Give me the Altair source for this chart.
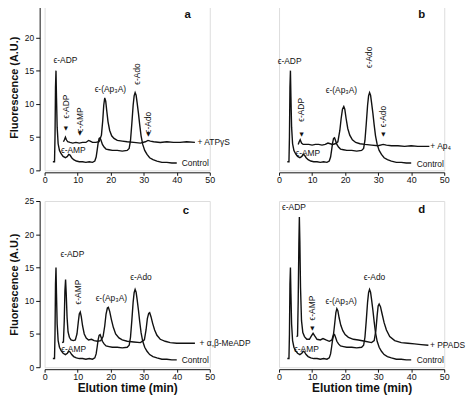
import altair as alt
import pandas as pd

# ---------------- data ----------------
# shared control chromatogram (min, A.U.)
ctl_t = [2.5, 3.0, 3.15, 3.3, 3.45, 3.6, 3.8, 4.1, 4.5, 5.0, 5.6, 6.3, 6.9, 7.3, 7.7, 8.2, 8.8, 9.6,
         10.5, 11.5, 12.5, 13.5, 14.5, 15.2, 15.6, 15.9, 16.2, 16.5, 16.8, 17.1, 17.5, 18.0, 18.6,
         19.5, 20.5, 22.0, 23.5, 25.0, 25.6, 26.0, 26.4, 26.8, 27.1, 27.4, 27.7, 28.0, 28.4, 28.8,
         29.2, 29.7, 30.3, 31.0, 31.8, 32.8, 34.0, 35.5, 37.0, 38.5, 40.0]
ctl_v = [1.3, 1.3, 5.0, 12.5, 15.0, 11.0, 6.5, 4.0, 3.0, 2.5, 2.1, 1.9, 2.1, 2.4, 2.3, 1.9, 1.6, 1.4,
         1.3, 1.3, 1.2, 1.3, 1.2, 1.4, 2.0, 3.0, 4.1, 4.8, 4.9, 4.5, 3.9, 3.5, 3.2,
         3.1, 3.0, 3.0, 2.9, 3.0, 3.3, 4.5, 7.0, 9.8, 11.2, 11.7, 11.3, 10.2, 8.6, 6.8,
         5.2, 3.9, 3.0, 2.4, 1.9, 1.6, 1.4, 1.2, 1.2, 1.1, 1.1]

# a: + ATPgammaS
a_t = [5.7, 6.0, 6.3, 6.6, 7.0, 7.7, 8.5, 9.5, 10.5, 11.5, 12.5, 13.3, 13.8, 14.5, 15.5, 16.5,
       17.2, 17.6, 17.9, 18.2, 18.5, 18.8, 19.2, 19.7, 20.3, 21.0, 22.0, 23.5, 25.0, 27.0, 29.0,
       30.5, 31.3, 32.0, 33.0, 35.0, 37.0, 39.0, 41.0, 43.0, 45.5]
a_v = [4.3, 4.6, 5.0, 4.6, 4.3, 4.2, 4.1, 4.2, 4.1, 4.2, 4.2, 4.5, 4.4, 4.2, 4.2, 4.3,
       5.3, 7.5, 9.8, 10.9, 10.4, 9.0, 7.3, 6.0, 5.2, 4.8, 4.5, 4.4, 4.3, 4.2, 4.1,
       4.3, 4.5, 4.4, 4.3, 4.2, 4.3, 4.2, 4.2, 4.3, 4.2]

# b: + Ap4
b_t = [5.8, 6.1, 6.4, 6.8, 7.3, 8.0, 9.0, 10.0, 11.0, 12.0, 13.0, 14.0, 14.8, 15.5, 16.2, 17.0,
       17.8, 18.4, 18.8, 19.2, 19.6, 19.9, 20.3, 20.8, 21.4, 22.2, 23.2, 24.5, 26.0, 28.0, 30.0,
       31.5, 32.5, 34.0, 36.0, 38.0, 40.0, 42.0, 44.0, 45.5]
b_v = [3.9, 4.3, 4.6, 4.1, 3.9, 3.9, 3.9, 3.8, 3.9, 3.9, 3.8, 3.9, 4.1, 4.0, 3.9, 4.0,
       4.3, 6.0, 7.8, 9.2, 9.6, 9.2, 7.8, 6.3, 5.3, 4.6, 4.2, 4.0, 3.9, 3.8, 3.7,
       3.9, 3.8, 3.7, 3.7, 3.6, 3.7, 3.6, 3.6, 3.6]

# c: + alpha,beta-MeADP
c_t = [5.3, 5.7, 5.95, 6.15, 6.35, 6.55, 6.8, 7.1, 7.5, 8.0, 8.7, 9.3, 9.8, 10.2, 10.5, 10.8, 11.1,
       11.5, 12.0, 12.6, 13.3, 14.2, 15.0, 16.0, 17.0, 17.7, 18.2, 18.6, 19.0, 19.3, 19.7, 20.2,
       20.8, 21.5, 22.5, 23.5, 25.0, 27.0, 29.0, 30.2, 30.7, 31.1, 31.5, 31.8, 32.2, 32.7, 33.3,
       34.0, 35.0, 36.5, 38.0, 40.0, 42.0, 44.0, 45.5]
c_v = [3.7, 3.8, 7.0, 11.5, 13.2, 11.0, 7.5, 5.3, 4.5, 4.1, 4.0, 4.1, 5.0, 6.8, 8.0, 8.3, 7.6,
       6.2, 5.0, 4.4, 4.1, 4.2, 4.0, 3.9, 4.0, 4.6, 6.2, 8.0, 8.9, 9.0, 8.4, 7.2,
       6.0, 5.0, 4.4, 4.1, 3.9, 3.8, 3.7, 4.1, 5.6, 7.3, 8.1, 8.2, 7.6, 6.6, 5.6,
       4.8, 4.2, 3.9, 3.7, 3.6, 3.6, 3.6, 3.6]

# d: + PPADS
d_t = [5.3, 5.6, 5.8, 6.0, 6.15, 6.3, 6.5, 6.8, 7.2, 7.7, 8.4, 9.2, 9.8, 10.3, 10.8, 11.5, 12.5,
       13.3, 14.2, 15.2, 16.0, 16.5, 16.9, 17.2, 17.5, 17.8, 18.2, 18.7, 19.3, 20.0, 21.0, 22.5,
       24.0, 26.0, 28.0, 28.8, 29.3, 29.7, 30.0, 30.3, 30.7, 31.2, 31.8, 32.5, 33.5, 35.0, 37.0,
       39.0, 41.0, 43.0, 45.2]
d_v = [4.6, 4.7, 10.0, 18.5, 22.6, 19.0, 12.0, 7.0, 5.2, 4.6, 4.2, 4.2, 4.7, 5.1, 4.7, 4.2, 4.1,
       4.3, 4.1, 3.9, 4.1, 5.0, 6.8, 8.2, 8.8, 8.5, 7.4, 6.3, 5.5, 4.9, 4.5, 4.2,
       4.1, 3.9, 3.7, 4.0, 5.5, 7.8, 9.2, 9.5, 9.1, 8.0, 6.7, 5.6, 4.6, 4.0, 3.7,
       3.6, 3.5, 3.4, 3.3]

panels = ["a", "b", "c", "d"]
trt_t = {"a": a_t, "b": b_t, "c": c_t, "d": d_t}
trt_v = {"a": a_v, "b": b_v, "c": c_v, "d": d_v}

E = "\u03f5"
# horizontal peak labels: panel, t, v, text
hl_panel = ["a", "a", "a", "b", "b", "b", "c", "c", "c", "c", "d", "d", "d", "d"]
hl_t = [6.3, 8.7, 19.9, 3.2, 8.7, 18.9, 8.4, 8.8, 20.2, 29.2, 4.5, 8.3, 18.8, 28.9]
hl_v = [16.6, 3.0, 12.2, 16.5, 2.6, 12.1, 17.0, 2.75, 10.4, 13.6, 24.1, 2.75, 10.0, 13.6]
hl_text = [E + "-ADP", E + "-AMP", E + "-(Ap\u2083A)",
           E + "-ADP", E + "-AMP", E + "-(Ap\u2083A)",
           E + "-ADP", E + "-AMP", E + "-(Ap\u2083A)", E + "-Ado",
           E + "-ADP", E + "-AMP", E + "-(Ap\u2083A)", E + "-Ado"]

# vertical (rotated) peak labels
vl_panel = ["a", "a", "a", "a", "b", "b", "b", "c", "d"]
vl_t = [6.4, 10.7, 27.9, 31.4, 6.8, 27.2, 31.6, 10.0, 10.1]
vl_v = [9.6, 7.6, 14.5, 7.2, 9.1, 17.0, 8.1, 11.3, 8.9]
vl_text = [E + "-ADP", E + "-AMP", E + "-Ado", E + "-Ado", E + "-ADP", E + "-Ado", E + "-Ado",
           E + "-AMP", E + "-AMP"]

# arrow heads under the rotated labels
ar_panel = ["a", "a", "a", "b", "b", "d"]
ar_t = [6.4, 10.7, 31.4, 6.8, 31.6, 10.1]
ar_v = [6.3, 5.6, 5.4, 5.5, 5.4, 5.9]

# trace end labels
tl_panel = ["a", "b", "c", "d", "a", "b", "c", "d"]
tl_t = [46.3, 45.8, 46.9, 45.7, 41.5, 41.7, 41.5, 41.7]
tl_v = [4.2, 3.6, 3.6, 3.3, 1.1, 1.0, 1.1, 1.1]
tl_text = ["+ ATP\u03b3S", "+ Ap\u2084", "+ \u03b1,\u03b2-MeADP", "+ PPADS",
           "Control", "Control", "Control", "Control"]

# panel letters
pl_t = [43.3, 43.2, 42.8, 43.2]
pl_v = [23.3, 23.3, 23.5, 23.7]

# ---------------- tables ----------------
rows = []
for p in panels:
    for t, v in zip(ctl_t, ctl_v):
        rows.append({"panel": p, "series": "Control", "t": t, "v": v})
    for t, v in zip(trt_t[p], trt_v[p]):
        rows.append({"panel": p, "series": "Treated", "t": t, "v": v})
traces = pd.DataFrame(rows)
hl = pd.DataFrame({"panel": hl_panel, "t": hl_t, "v": hl_v, "label": hl_text})
vl = pd.DataFrame({"panel": vl_panel, "t": vl_t, "v": vl_v, "label": vl_text})
ar = pd.DataFrame({"panel": ar_panel, "t": ar_t, "v": ar_v, "label": ["\u25bc"] * len(ar_panel)})
tl = pd.DataFrame({"panel": tl_panel, "t": tl_t, "v": tl_v, "label": tl_text})
pl = pd.DataFrame({"panel": panels, "t": pl_t, "v": pl_v, "label": panels})

FONT = "Liberation Sans"
INK = "#111111"


def make_panel(p, left, bottom):
    x_axis = alt.Axis(values=[0, 10, 20, 30, 40, 50], title="Elution time (min)" if bottom else None,
                      offset=2, tickSize=3, labelPadding=0, titlePadding=2,
                      titleFontSize=12, titleFontWeight="bold", titleFont=FONT,
                      labelFontSize=9, labelFont=FONT, labelColor=INK, titleColor=INK,
                      domainColor=INK, tickColor=INK, grid=False, labelFlush=False)
    x = alt.X("t:Q", scale=alt.Scale(domain=[0, 50]), axis=x_axis)
    if left:
        y_axis = alt.Axis(values=[0, 5, 10, 15, 20, 25], title="Fluorescence (A.U.)",
                          offset=5, tickSize=4, labelPadding=2, titlePadding=5,
                          titleFontSize=11, titleFontWeight="bold", titleFont=FONT,
                          labelFontSize=8.5, labelFont=FONT, labelColor=INK, titleColor=INK,
                          domainColor=INK, tickColor=INK, grid=False, labelFlush=False)
        y = alt.Y("v:Q", scale=alt.Scale(domain=[0, 25]), axis=y_axis)
    else:
        y = alt.Y("v:Q", scale=alt.Scale(domain=[0, 25]), axis=None)

    lines = alt.Chart(traces[traces.panel == p]).mark_line(
        color=INK, strokeWidth=1.4, interpolate="linear").encode(x=x, y=y, detail="series:N")
    htxt = alt.Chart(hl[hl.panel == p]).mark_text(
        font=FONT, fontSize=8.5, color=INK, align="center", baseline="middle").encode(
        x=x, y=y, text="label:N")
    vtxt = alt.Chart(vl[vl.panel == p]).mark_text(
        font=FONT, fontSize=8.5, color=INK, align="center", baseline="middle", angle=270).encode(
        x=x, y=y, text="label:N")
    arrows = alt.Chart(ar[ar.panel == p]).mark_text(
        font="DejaVu Sans", fontSize=5.5, color=INK, align="center", baseline="middle").encode(
        x=x, y=y, text="label:N")
    ends = alt.Chart(tl[tl.panel == p]).mark_text(
        font=FONT, fontSize=8.5, color=INK, align="left", baseline="middle").encode(
        x=x, y=y, text="label:N")
    letter = alt.Chart(pl[pl.panel == p]).mark_text(
        font=FONT, fontSize=11.5, fontWeight="bold", color=INK, align="center",
        baseline="middle").encode(x=x, y=y, text="label:N")
    return alt.layer(lines, htxt, vtxt, arrows, ends, letter).properties(width=167, height=168)


chart = alt.concat(
    make_panel("a", True, False),
    make_panel("b", False, False),
    make_panel("c", True, True),
    make_panel("d", False, True),
    columns=2,
    spacing={"row": 31, "column": 70},
    bounds="flush",
    padding={"left": 0, "top": -11, "right": 0, "bottom": 0},
).configure_view(stroke=None).configure(background="white")

chart.save("out.html", embed_options={"renderer": "svg", "actions": False})
